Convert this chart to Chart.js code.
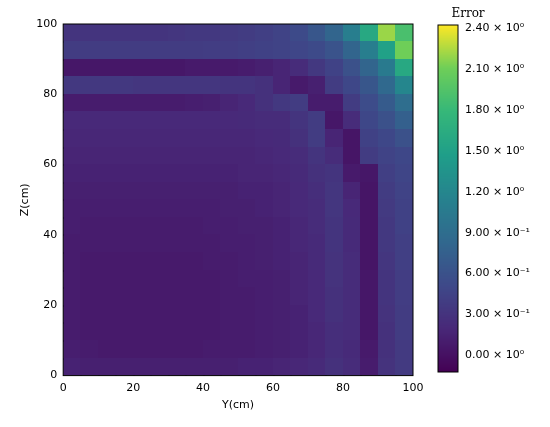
<!DOCTYPE html>
<html>
<head>
<script src="https://cdn.jsdelivr.net/npm/chart.js"></script>
<style>
  body { margin: 0; background: #fff; }
  #main { position: absolute; left: 0; top: 0; }
  #bar { position: absolute; left: 420px; top: 0; }
</style>
</head>
<body>
<canvas id="main" width="430" height="427"></canvas>
<canvas id="bar" width="130" height="427"></canvas>
<script>
'use strict';

// cell centres (cm), 5 cm cells
const yCenters = [2.5, 7.5, 12.5, 17.5, 22.5, 27.5, 32.5, 37.5, 42.5, 47.5, 52.5, 57.5, 62.5, 67.5, 72.5, 77.5, 82.5, 87.5, 92.5, 97.5];
const zCenters = [97.5, 92.5, 87.5, 82.5, 77.5, 72.5, 67.5, 62.5, 57.5, 52.5, 47.5, 42.5, 37.5, 32.5, 27.5, 22.5, 17.5, 12.5, 7.5, 2.5];

// error values, one row per zCenters entry, columns follow yCenters
const errorRows = [
  [0.31, 0.31, 0.31, 0.31, 0.31, 0.31, 0.33, 0.35, 0.35, 0.37, 0.39, 0.42, 0.46, 0.53, 0.65, 0.80, 1.10, 1.60, 2.20, 1.90],
  [0.39, 0.39, 0.39, 0.39, 0.39, 0.39, 0.39, 0.39, 0.40, 0.40, 0.42, 0.44, 0.46, 0.49, 0.53, 0.62, 0.80, 1.10, 1.50, 2.10],
  [0.06, 0.06, 0.06, 0.06, 0.06, 0.06, 0.06, 0.08, 0.08, 0.08, 0.10, 0.13, 0.17, 0.24, 0.35, 0.45, 0.60, 0.80, 1.05, 1.60],
  [0.35, 0.35, 0.35, 0.35, 0.33, 0.33, 0.33, 0.33, 0.33, 0.31, 0.31, 0.28, 0.17, 0.08, 0.13, 0.39, 0.50, 0.65, 0.85, 1.20],
  [0.10, 0.10, 0.10, 0.10, 0.10, 0.10, 0.10, 0.12, 0.13, 0.17, 0.21, 0.28, 0.35, 0.39, 0.10, 0.10, 0.39, 0.55, 0.70, 0.90],
  [0.21, 0.21, 0.21, 0.21, 0.21, 0.21, 0.21, 0.21, 0.21, 0.21, 0.22, 0.24, 0.24, 0.31, 0.39, 0.06, 0.24, 0.50, 0.60, 0.75],
  [0.19, 0.19, 0.19, 0.19, 0.19, 0.19, 0.19, 0.19, 0.19, 0.19, 0.19, 0.21, 0.22, 0.28, 0.39, 0.17, 0.04, 0.44, 0.50, 0.60],
  [0.17, 0.17, 0.17, 0.17, 0.17, 0.17, 0.17, 0.17, 0.17, 0.17, 0.17, 0.19, 0.21, 0.24, 0.31, 0.24, 0.04, 0.39, 0.46, 0.50],
  [0.15, 0.15, 0.15, 0.15, 0.15, 0.15, 0.15, 0.15, 0.15, 0.15, 0.17, 0.17, 0.19, 0.22, 0.28, 0.31, 0.08, 0.06, 0.42, 0.48],
  [0.13, 0.13, 0.13, 0.13, 0.13, 0.13, 0.13, 0.13, 0.13, 0.13, 0.15, 0.15, 0.17, 0.21, 0.26, 0.33, 0.17, 0.04, 0.39, 0.46],
  [0.12, 0.12, 0.12, 0.12, 0.12, 0.12, 0.12, 0.12, 0.12, 0.13, 0.13, 0.15, 0.17, 0.21, 0.24, 0.33, 0.21, 0.04, 0.37, 0.44],
  [0.12, 0.10, 0.10, 0.10, 0.10, 0.10, 0.10, 0.10, 0.12, 0.12, 0.13, 0.13, 0.15, 0.19, 0.24, 0.31, 0.22, 0.04, 0.35, 0.44],
  [0.10, 0.10, 0.10, 0.10, 0.10, 0.10, 0.10, 0.10, 0.10, 0.12, 0.12, 0.13, 0.15, 0.19, 0.22, 0.31, 0.22, 0.04, 0.35, 0.42],
  [0.10, 0.08, 0.08, 0.08, 0.08, 0.08, 0.08, 0.08, 0.10, 0.10, 0.12, 0.13, 0.15, 0.17, 0.22, 0.30, 0.24, 0.04, 0.33, 0.42],
  [0.10, 0.08, 0.08, 0.08, 0.08, 0.08, 0.08, 0.08, 0.08, 0.10, 0.12, 0.12, 0.13, 0.17, 0.21, 0.30, 0.24, 0.06, 0.31, 0.40],
  [0.10, 0.08, 0.08, 0.08, 0.08, 0.08, 0.08, 0.08, 0.08, 0.10, 0.10, 0.12, 0.13, 0.17, 0.21, 0.28, 0.24, 0.06, 0.31, 0.40],
  [0.10, 0.08, 0.08, 0.08, 0.08, 0.08, 0.08, 0.08, 0.08, 0.10, 0.10, 0.12, 0.13, 0.15, 0.21, 0.28, 0.24, 0.06, 0.30, 0.39],
  [0.10, 0.08, 0.08, 0.08, 0.08, 0.08, 0.08, 0.08, 0.08, 0.10, 0.10, 0.12, 0.13, 0.15, 0.19, 0.26, 0.24, 0.06, 0.28, 0.39],
  [0.12, 0.10, 0.08, 0.08, 0.08, 0.08, 0.08, 0.08, 0.10, 0.10, 0.10, 0.12, 0.13, 0.15, 0.19, 0.26, 0.22, 0.08, 0.28, 0.37],
  [0.15, 0.13, 0.13, 0.13, 0.13, 0.13, 0.13, 0.13, 0.13, 0.13, 0.15, 0.15, 0.17, 0.19, 0.22, 0.28, 0.24, 0.10, 0.30, 0.37]
];

const axisTicks = [0, 20, 40, 60, 80, 100];
const colorTicks = [0, 0.3, 0.6, 0.9, 1.2, 1.5, 1.8, 2.1, 2.4];
const colorTickLabels = ['0.00 × 10⁰', '3.00 × 10⁻¹', '6.00 × 10⁻¹', '9.00 × 10⁻¹', '1.20 × 10⁰', '1.50 × 10⁰', '1.80 × 10⁰', '2.10 × 10⁰', '2.40 × 10⁰'];
const vmin = -0.12, vmax = 2.42;
const cellSize = 5;

const viridis = ['#440154', '#482878', '#3e4989', '#31688e', '#26828e', '#1f9e89', '#35b779', '#6ece58', '#fde725'];
function hex(c) { return [1, 3, 5].map(i => parseInt(c.substr(i, 2), 16)); }
function colorFor(v) {
  let t = Math.max(0, Math.min(1, (v - vmin) / (vmax - vmin))) * (viridis.length - 1);
  let i = Math.min(Math.floor(t), viridis.length - 2), f = t - i;
  let a = hex(viridis[i]), b = hex(viridis[i + 1]);
  return 'rgb(' + a.map((x, k) => Math.round(x + (b[k] - x) * f)).join(',') + ')';
}

const cells = [];
zCenters.forEach((z, r) => yCenters.forEach((y, c) => cells.push({ x: y, y: z, v: errorRows[r][c] })));

Chart.defaults.font.family = 'DejaVu Sans';
Chart.defaults.font.size = 11;
Chart.defaults.color = '#000';

const heatPlugin = {
  id: 'heat',
  beforeDatasetsDraw(chart) {
    const ctx = chart.ctx, xs = chart.scales.x, ys = chart.scales.y;
    const a = chart.chartArea;
    ctx.save();
    ctx.beginPath(); ctx.rect(a.left, a.top, a.right - a.left, a.bottom - a.top); ctx.clip();
    chart.data.datasets[0].data.forEach(d => {
      const x0 = Math.floor(xs.getPixelForValue(d.x - cellSize / 2)), x1 = Math.ceil(xs.getPixelForValue(d.x + cellSize / 2));
      const y0 = Math.floor(ys.getPixelForValue(d.y + cellSize / 2)), y1 = Math.ceil(ys.getPixelForValue(d.y - cellSize / 2));
      ctx.fillStyle = colorFor(d.v);
      ctx.fillRect(x0, y0, x1 - x0 + 1, y1 - y0 + 1);
    });
    ctx.restore();
    ctx.strokeStyle = '#000'; ctx.lineWidth = 1;
    ctx.strokeRect(a.left, a.top, a.right - a.left, a.bottom - a.top);
  }
};

new Chart(document.getElementById('main'), {
  type: 'scatter',
  data: { datasets: [{ data: cells, pointRadius: 0 }] },
  options: {
    responsive: false, animation: false,
    layout: { padding: { top: 24, left: 15, right: 17, bottom: 11 } },
    plugins: { legend: { display: false }, tooltip: { enabled: false } },
    scales: {
      x: {
        min: 0, max: 100,
        afterBuildTicks: s => { s.ticks = axisTicks.map(v => ({ value: v })); },
        grid: { display: false, drawTicks: true, tickLength: 4, tickColor: '#000' },
        border: { display: false },
        ticks: { padding: 2 },
        title: { display: true, text: 'Y(cm)', padding: { top: 2 } }
      },
      y: {
        min: 0, max: 100,
        afterBuildTicks: s => { s.ticks = axisTicks.map(v => ({ value: v })); },
        grid: { display: false, drawTicks: true, tickLength: 4, tickColor: '#000' },
        border: { display: false },
        ticks: { padding: 2 },
        title: { display: true, text: 'Z(cm)', padding: { bottom: 2 } }
      }
    }
  },
  plugins: [heatPlugin]
});

const barPlugin = {
  id: 'cbar',
  beforeDatasetsDraw(chart) {
    const ctx = chart.ctx, a = chart.chartArea, ys = chart.scales.y;
    for (let py = a.top; py < a.bottom; py++) {
      ctx.fillStyle = colorFor(ys.getValueForPixel(py + 0.5));
      ctx.fillRect(a.left, py, a.right - a.left, 1);
    }
    ctx.strokeStyle = '#000'; ctx.lineWidth = 1;
    ctx.strokeRect(a.left, a.top, a.right - a.left, a.bottom - a.top);
    ctx.fillStyle = '#000';
    ctx.font = '12px "DejaVu Serif"';
    ctx.textAlign = 'center';
    ctx.fillText('Error', a.right + 10, a.top - 8);
  }
};

new Chart(document.getElementById('bar'), {
  type: 'scatter',
  data: { datasets: [{ data: [] }] },
  options: {
    responsive: false, animation: false,
    layout: { padding: { top: 25, left: 18, right: 0, bottom: 55 } },
    plugins: { legend: { display: false }, tooltip: { enabled: false } },
    scales: {
      x: { display: false, min: 0, max: 1 },
      y: {
        position: 'right', min: vmin, max: vmax,
        afterBuildTicks: s => { s.ticks = colorTicks.map(v => ({ value: v })); },
        afterFit: s => { s.width = 92; },
        grid: { display: false, drawTicks: true, tickLength: 4, tickColor: '#000' },
        border: { display: false },
        ticks: { padding: 3, callback: (v, i) => colorTickLabels[i] }
      }
    }
  },
  plugins: [barPlugin]
});
</script>
</body>
</html>
